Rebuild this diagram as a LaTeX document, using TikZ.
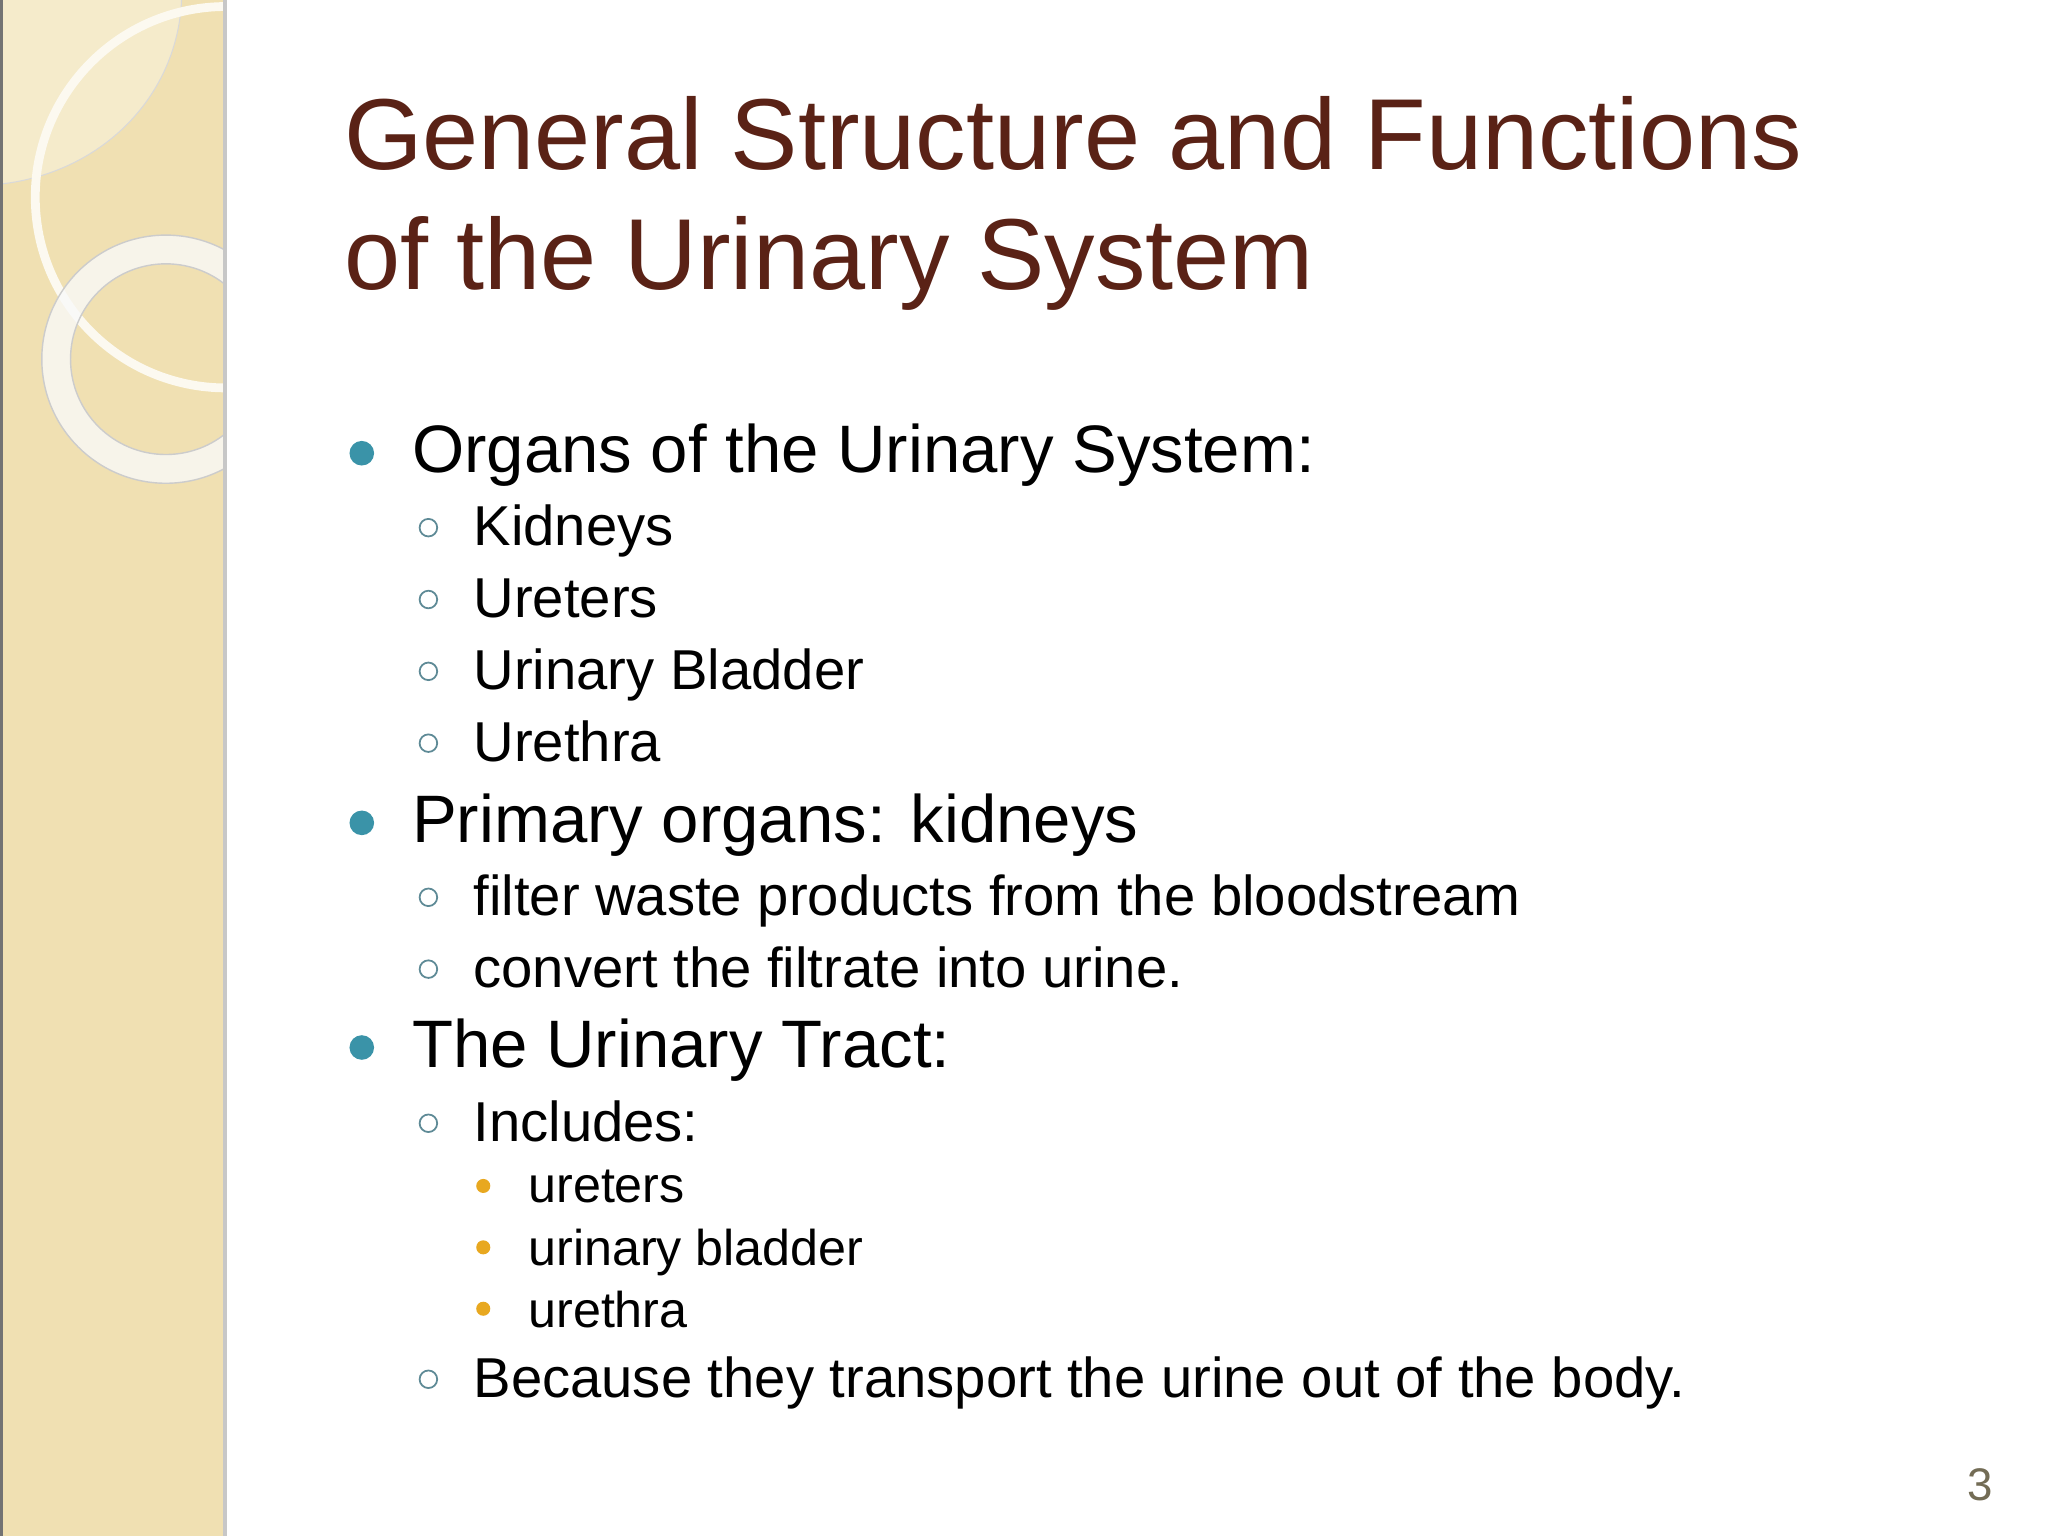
\documentclass[tikz,border=0pt]{standalone}
\usepackage{fontspec}
\setmainfont{Liberation Sans}
\begin{document}
\begin{tikzpicture}[x=0.013061cm,y=-0.013061cm,
  ttl/.style={anchor=base west,inner sep=0pt,text=titlec,font=\fontsize{28.7}{34}\selectfont},
  lone/.style={anchor=base west,inner sep=0pt,font=\fontsize{19.1}{23}\selectfont},
  ltwo/.style={anchor=base west,inner sep=0pt,font=\fontsize{16}{19}\selectfont},
  lthree/.style={anchor=base west,inner sep=0pt,font=\fontsize{14.3}{17}\selectfont},
  bone/.style={circle,fill=tealc,inner sep=0pt,minimum size=7},
  btwo/.style={circle,draw=ringc,line width=0.5pt,inner sep=0pt,minimum size=5},
  bthree/.style={circle,fill=orangec,inner sep=0pt,minimum size=4}]
\definecolor{titlec}{HTML}{5A2216}
\definecolor{tealc}{HTML}{3A93A8}
\definecolor{orangec}{HTML}{E8A820}
\definecolor{ringc}{HTML}{5E8A96}
\definecolor{panelc}{HTML}{F0E0B2}
\definecolor{panellt}{HTML}{F5EBCB}
\useasboundingbox (0,0) rectangle (1568,1176);
\fill[white] (0,0) rectangle (1568,1176);
% left panel
\fill[panelc] (0,0) rectangle (173,1176);
\begin{scope}
\clip (0,0) rectangle (173,1176);
\fill[panellt] (0,0) -- (0,141) .. controls (80,132) and (136,72) .. (139,0) -- cycle;
\draw[black!15,line width=0.3pt] (0,141) .. controls (80,132) and (136,72) .. (139,0);
\draw[white!80!panelc,line width=2.5pt] (173,151) circle (146);
\fill[even odd rule,white!75!gray!20,opacity=0.8] (127,275) circle (95) (127,275) circle (73);
\draw[black!20,line width=0.4pt] (127,275) circle (95) (127,275) circle (73);
\end{scope}
\fill[black!22] (171,0) rectangle (174,1176);
\fill[black!55] (0,0) rectangle (2,1176);
% title
\node[ttl] (t1) at (263,130) {General Structure and Functions};
\node[ttl] (t2) at (263,222) {of the Urinary System};
% bullets
\node[bone] (b1) at (277,347) {}; \node[lone] (l1) at (315,362) {Organs of the Urinary System:};
\node[btwo] (b2) at (328,404) {}; \node[ltwo] (l2) at (362,418) {Kidneys};
\node[btwo] (b3) at (328,459) {}; \node[ltwo] (l3) at (362,473) {Ureters};
\node[btwo] (b4) at (328,514) {}; \node[ltwo] (l4) at (362,528) {Urinary Bladder};
\node[btwo] (b5) at (328,569) {}; \node[ltwo] (l5) at (362,583) {Urethra};
\node[bone] (b6) at (277,630) {}; \node[lone] (l6) at (315,645) {Primary organs: kidneys};
\node[btwo] (b7) at (328,687) {}; \node[ltwo] (l7) at (362,701) {filter waste products from the bloodstream};
\node[btwo] (b8) at (328,742) {}; \node[ltwo] (l8) at (362,756) {convert the filtrate into urine.};
\node[bone] (b9) at (277,802) {}; \node[lone] (l9) at (315,817) {The Urinary Tract:};
\node[btwo] (b10) at (328,860) {}; \node[ltwo] (l10) at (362,874) {Includes:};
\node[bthree] (b11) at (370,908) {}; \node[lthree] (l11) at (404,921) {ureters};
\node[bthree] (b12) at (370,955) {}; \node[lthree] (l12) at (404,969) {urinary bladder};
\node[bthree] (b13) at (370,1002) {}; \node[lthree] (l13) at (404,1016) {urethra};
\node[btwo] (b14) at (328,1056) {}; \node[ltwo] (l14) at (362,1070) {Because they transport the urine out of the body.};
\node[anchor=base,inner sep=0pt,text=black!40!panelc!80!black,font=\fontsize{13}{15}\selectfont] (pn) at (1516,1149) {3};
\end{tikzpicture}
\end{document}
